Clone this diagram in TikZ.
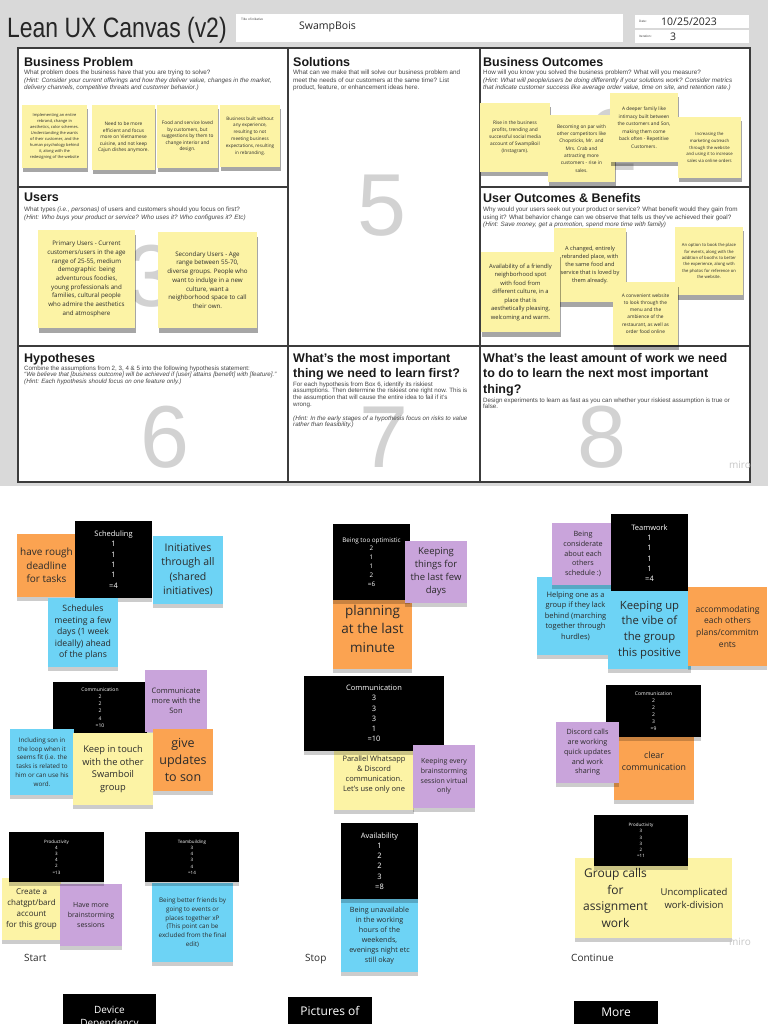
\documentclass[tikz,border=0pt]{standalone}
\usepackage{fontspec}
\setmainfont{Open Sans}
\newfontfamily\arf{Liberation Sans}
\usetikzlibrary{shadows}
\definecolor{bgg}{HTML}{D9D9D9}
\definecolor{frm}{HTML}{3C3C3C}
\definecolor{numg}{HTML}{D2D2D2}
\definecolor{yel}{HTML}{FCF3A5}
\definecolor{ora}{HTML}{FBA351}
\definecolor{blu}{HTML}{6DD3F5}
\definecolor{pur}{HTML}{C9A4DB}
\definecolor{ink}{HTML}{2B2B2B}
\definecolor{subc}{HTML}{454545}
\tikzset{
 stk/.style={inner sep=0pt, align=center, text=ink},
 shA/.style={drop shadow={shadow xshift=0pt, shadow yshift=-3.5pt, opacity=0.2, fill=black}},
 shB/.style={drop shadow={shadow xshift=1pt, shadow yshift=-4.5pt, opacity=0.35, fill=black}},
 cy/.style={stk, fill=yel, shB},
 ys/.style={stk, fill=yel, shA},
 os/.style={stk, fill=ora, shA},
 bs/.style={stk, fill=blu, shA},
 ps/.style={stk, fill=pur, shA},
 ks/.style={stk, fill=black, text=white, shA},
 head/.style={anchor=north west, inner sep=0pt, align=left, text=black!90, font=\arf\bfseries\fontsize{12.5}{15.5}\selectfont},
 subt/.style={anchor=north west, inner sep=0pt, align=left, text=subc, font=\arf\fontsize{6.3}{7.3}\selectfont},
 subs/.style={subt, font=\arf\fontsize{6.2}{6.8}\selectfont},
 bignum/.style={inner sep=0pt, text=numg, font=\arf\fontsize{88}{88}\selectfont},
 lbl/.style={anchor=base west, inner sep=0pt, text=ink, font=\fontsize{10}{12}\selectfont},
 wm/.style={inner sep=0pt, text=black!22, font=\fontsize{10}{12}\selectfont},
 tiny/.style={anchor=west, inner sep=0pt, text=black!70, font=\arf\fontsize{3.2}{4}\selectfont},
 wbox/.style={anchor=north west, inner sep=0pt, fill=white},
}
\newcommand\sticky[9]{\node[#2, minimum width={#5pt-#3pt}, minimum height={#6pt-#4pt}, font=\fontsize{#7}{#8}\selectfont] (#1) at ({(#3+#5)/2},{(#4+#6)/2}) {#9};}
\begin{document}
\begin{tikzpicture}[x=1pt,y=-1pt]
\useasboundingbox (0,0) rectangle (768,1024);
\clip (0,0) rectangle (768,1024);
\fill[white] (0,0) rectangle (768,1024);
\fill[bgg] (0,0) rectangle (768,486);
% header
\node[anchor=base west, inner sep=0pt, text=black!85, font=\arf\fontsize{28}{28}\selectfont] (title) at (7,37.5) {\scalebox{0.82}[1]{Lean UX Canvas (v2)}};
\node[wbox, minimum width=387pt, minimum height=28pt] (tbox) at (236,14) {};
\node[tiny] (tlab) at (241,19) {Title of initiative};
\node[anchor=west, inner sep=0pt, text=black!85, font=\fontsize{10.5}{12}\selectfont] (tval) at (299,27) {SwampBois};
\node[wbox, minimum width=114pt, minimum height=12.5pt] (dbox) at (635,15) {};
\node[wbox, minimum width=114pt, minimum height=12.5pt] (ibox) at (635,30) {};
\node[tiny] (dlab) at (639,21.5) {Date:};
\node[anchor=west, inner sep=0pt, text=black!85, font=\fontsize{10.5}{12}\selectfont] (dval) at (661,21.5) {10/25/2023};
\node[tiny] (ilab) at (639,36.5) {Iteration:};
\node[anchor=west, inner sep=0pt, text=black!85, font=\fontsize{10.5}{12}\selectfont] (ival) at (670,37) {3};
% canvas frame
\fill[white] (18,48) rectangle (750,482);
\draw[frm, line width=2.5pt] (18,48) rectangle (750,482);
\draw[frm, line width=1.5pt] (288,48) -- (288,482) (480,48) -- (480,482) (18,187) -- (288,187) (480,187) -- (750,187) (18,346) -- (750,346);
% big numerals
\node[bignum] (n2) at (614,140) {2};
\node[bignum] (n3) at (152,276) {3};
\node[bignum] (n5) at (382,206) {5};
\node[bignum] (n6) at (165,437) {6};
\node[bignum] (n7) at (384,437) {7};
\node[bignum] (n8) at (602,437) {8};
% headings
\node[head] (hbp) at (24,57) {Business Problem};
\node[subt] (sbp) at (24,70) {What problem does the business have that you are trying to solve?\\\textit{(Hint: Consider your current offerings and how they deliver value, changes in the market,}\\\textit{delivery channels, competitive threats and customer behavior.)}};
\node[head] (hsol) at (293,57) {Solutions};
\node[subt] (ssol) at (293,70) {What can we make that will solve our business problem and\\meet the needs of our customers at the same time? List\\product, feature, or enhancement ideas here.};
\node[head] (hbo) at (483,57) {Business Outcomes};
\node[subt] (sbo) at (483,70) {How will you know you solved the business problem? What will you measure?\\\textit{(Hint: What will people/users be doing differently if your solutions work? Consider metrics}\\\textit{that indicate customer success like average order value, time on site, and retention rate.)}};
\node[head] (hus) at (24,193) {Users};
\node[subt] (sus) at (24,207) {What types \textit{(i.e., personas)} of users and customers should you focus on first?\\\textit{(Hint: Who buys your product or service? Who uses it? Who configures it? Etc)}};
\node[head] (huo) at (483,193) {User Outcomes \& Benefits};
\node[subt] (suo) at (483,207) {Why would your users seek out your product or service? What benefit would they gain from\\using it? What behavior change can we observe that tells us they’ve achieved their goal?\\\textit{(Hint: Save money, get a promotion, spend more time with family)}};
\node[head] (hhy) at (24,353) {Hypotheses};
\node[subs] (shy) at (24,365.5) {Combine the assumptions from 2, 3, 4 \& 5 into the following hypothesis statement:\\\textit{“We believe that [business outcome] will be achieved if [user] attains [benefit] with [feature].”}\\\textit{(Hint: Each hypothesis should focus on one feature only.)}};
\node[head] (hmi) at (293,353) {What’s the most important\\thing we need to learn first?};
\node[subs] (smi) at (293,381.5) {For each hypothesis from Box 6, identify its riskiest\\assumptions. Then determine the riskiest one right now. This is\\the assumption that will cause the entire idea to fail if it’s\\wrong.\\[6.8pt]\textit{(Hint: In the early stages of a hypothesis focus on risks to value}\\\textit{rather than feasibility.)}};
\node[head] (hle) at (483,353) {What’s the least amount of work we need\\to do to learn the next most important\\thing?};
\node[subs] (sle) at (483,397.5) {Design experiments to learn as fast as you can whether your riskiest assumption is true or\\false.};
\node[wm] (miro1) at (740,465) {miro};
% canvas stickies
\sticky{bp1}{cy}{22}{105}{87}{168}{4}{6}{Implementing an entire\\rebrand, change in\\aesthetics, color schemes.\\Understanding the wants\\of their customer, and the\\human psychology behind\\it, along with the\\redesigning of the website}
\sticky{bp2}{cy}{92}{105}{155}{170}{4.8}{6.6}{Need to be more\\efficient and focus\\more on Vietnamese\\cuisine, and not keep\\Cajun dishes anymore.}
\sticky{bp3}{cy}{157}{105}{218}{168}{4.8}{6.6}{Food and service loved\\by customers, but\\suggestions by them to\\change interior and\\design.}
\sticky{bp4}{cy}{220}{105}{280}{167}{4.6}{6.8}{Business built without\\any experience,\\resulting to not\\meeting business\\expectations, resulting\\in rebranding.}
\sticky{bo1}{cy}{480}{103}{550}{172}{4.8}{7}{Rise in the business\\profits, trending and\\successful social media\\account of SwampBoil\\(Instagram).}
\sticky{bo2}{cy}{548}{115}{615}{182}{4.8}{7.3}{Becoming on par with\\other competitors like\\Chopsticks, Mr. and\\Mrs. Crab and\\attracting more\\customers - rise in\\sales.}
\sticky{bo3}{cy}{610}{93}{678}{162}{4.8}{7.5}{A deeper family like\\intimacy built between\\the customers and Son,\\making them come\\back often - Repetitive\\Customers.}
\sticky{bo4}{cy}{678}{117}{741}{178}{4.3}{6.7}{Increasing the\\marketing outreach\\through the website\\and using it to increase\\sales via online orders}
\sticky{us1}{cy}{38}{230}{135}{328}{6.2}{8.7}{Primary Users - Current\\customers/users in the age\\range of 25-55, medium\\demographic\ \ being\\adventurous foodies,\\young professionals and\\families, cultural people\\who admire the aesthetics\\and atmosphere}
\sticky{us2}{cy}{158}{232}{257}{328}{6.2}{8.7}{Secondary Users - Age\\range between 55-70,\\diverse groups. People who\\want to indulge in a new\\culture, want a\\neighborhood space to call\\their own.}
\sticky{uo2}{cy}{554}{228}{626}{302}{5.6}{8}{A changed, entirely\\rebranded place, with\\the same food and\\service that is loved by\\them already.}
\sticky{uo1}{cy}{481}{252}{560}{332}{5.8}{8.5}{Availability of a friendly\\neighborhood spot\\with food from\\different culture, in a\\place that is\\aesthetically pleasing,\\welcoming and warm.}
\sticky{uo4}{cy}{675}{227}{743}{295}{4.2}{6.3}{An option to book the place\\for events, along with the\\addition of booths to better\\the experience, along with\\the photos for reference on\\the website.}
\sticky{uo3}{cy}{613}{282}{678}{345}{4.8}{7.2}{A convenient website\\to look through the\\menu and the\\ambience of the\\restaurant, as well as\\order food online}
% ===== retro: start column =====
\sticky{s1o}{os}{17}{534}{76}{597}{10}{13.5}{have rough\\deadline\\for tasks}
\sticky{s1b}{bs}{153}{536}{223}{604}{10.5}{14.3}{Initiatives\\through all\\(shared\\initiatives)}
\sticky{s1k}{ks}{75}{521}{152}{598}{7.5}{10.4}{Scheduling\\1\\1\\1\\1\\=4}
\sticky{s1c}{bs}{48}{598}{118}{667}{8.7}{11.4}{Schedules\\meeting a few\\days (1 week\\ideally) ahead\\of the plans}
\sticky{s2k}{ks}{53}{682}{147}{733}{5}{7.2}{Communication\\2\\2\\2\\4\\=10}
\sticky{s2p}{ps}{145}{670}{207}{732}{7.5}{10}{Communicate\\more with the\\Son}
\sticky{s2b}{bs}{10}{729}{74}{795}{6.3}{8.9}{Including son in\\the loop when it\\seems fit (i.e. the\\tasks is related to\\him or can use his\\word.}
\sticky{s2y}{ys}{73}{733}{153}{805}{9.3}{12.7}{Keep in touch\\with the other\\Swamboil\\group}
\sticky{s2o}{os}{153}{729}{213}{791}{12.5}{17}{give\\updates\\to son}
% ===== retro: stop column =====
\sticky{t1o}{os}{333}{588}{412}{669}{13.5}{18.5}{planning\\at the last\\minute}
\sticky{t1k}{ks}{333}{524}{410}{600}{6.3}{8.9}{Being too optimistic\\2\\1\\1\\2\\=6}
\sticky{t1p}{ps}{405}{541}{467}{603}{9.5}{13}{Keeping\\things for\\the last few\\days}
\sticky{t2y}{ys}{334}{739}{414}{810}{7.5}{10}{Parallel Whatsapp\\\& Discord\\communication.\\Let’s use only one}
\sticky{t2k}{ks}{304}{676}{444}{751}{7.5}{10.3}{Communication\\3\\3\\3\\1\\=10}
\sticky{t2p}{ps}{413}{745}{475}{808}{7}{9.7}{Keeping every\\brainstorming\\session virtual\\only}
% ===== retro: continue column =====
\sticky{u1b}{bs}{537}{577}{614}{655}{7.5}{10.4}{Helping one as a\\group if they lack\\behind (marching\\together through\\hurdles)}
\sticky{u1p}{ps}{552}{523}{614}{585}{7.2}{9.8}{Being\\considerate\\about each\\others\\schedule :)}
\sticky{u1k}{ks}{611}{514}{688}{592}{7.5}{10.3}{Teamwork\\1\\1\\1\\1\\=4}
\sticky{u1c}{bs}{608}{591}{691}{669}{11.3}{15.8}{Keeping up\\the vibe of\\the group\\this positive}
\sticky{u1o}{os}{688}{587}{767}{666}{8.5}{11.7}{accommodating\\each others\\plans/commitm\\ents}
\sticky{u2o}{os}{614}{722}{694}{800}{8.8}{12}{clear\\communication}
\sticky{u2k}{ks}{606}{685}{701}{737}{5}{7}{Communication\\2\\2\\2\\3\\=9}
\sticky{u2p}{ps}{556}{722}{619}{783}{7.2}{9.8}{Discord calls\\are working\\quick updates\\and work\\sharing}
% ===== lower row =====
\sticky{v1y}{ys}{2}{878}{61}{940}{8}{11}{Create a\\chatgpt/bard\\account\\for this group}
\sticky{v1p}{ps}{60}{884}{122}{946}{7}{9.7}{Have more\\brainstorming\\sessions}
\sticky{v1k}{ks}{9}{832}{104}{882}{4.5}{6.2}{Productivity\\4\\3\\4\\2\\=13}
\sticky{v2b}{bs}{152}{883}{233}{962}{6.3}{8.8}{Being better friends by\\going to events or\\places together xP\\(This point can be\\excluded from the final\\edit)}
\sticky{v2k}{ks}{145}{832}{239}{882}{4.5}{6.2}{Teambuilding\\3\\4\\3\\4\\=14}
\sticky{w1b}{bs}{341}{899}{418}{972}{7.2}{10}{Being unavailable\\in the working\\hours of the\\weekends,\\evenings night etc\\still okay}
\sticky{w1k}{ks}{341}{823}{418}{899}{7.5}{10.3}{Availability\\1\\2\\2\\3\\=8}
\sticky{x1y}{ys}{575}{858}{656}{938}{12}{16.7}{Group calls\\for\\assignment\\work}
\sticky{x2y}{ys}{656}{858}{732}{938}{9.5}{13}{Uncomplicated\\work-division}
\sticky{x1k}{ks}{594}{815}{688}{866}{4.5}{6.2}{Productivity\\3\\3\\3\\2\\=11}
\node[lbl] (lstart) at (24,961.5) {Start};
\node[lbl] (lstop) at (305,961.5) {Stop};
\node[lbl] (lcont) at (571,961.5) {Continue};
\node[wm] (miro2) at (740,942) {miro};
% partially visible notes at the bottom edge
\sticky{dv}{ks}{63}{994}{156}{1041}{10}{13}{Device\\Dependency}
\sticky{pc}{ks}{288}{997}{372}{1024}{12}{14}{Pictures of}
\sticky{mo}{ks}{574}{1001}{658}{1024}{12}{14}{More}
\end{tikzpicture}
\end{document}
